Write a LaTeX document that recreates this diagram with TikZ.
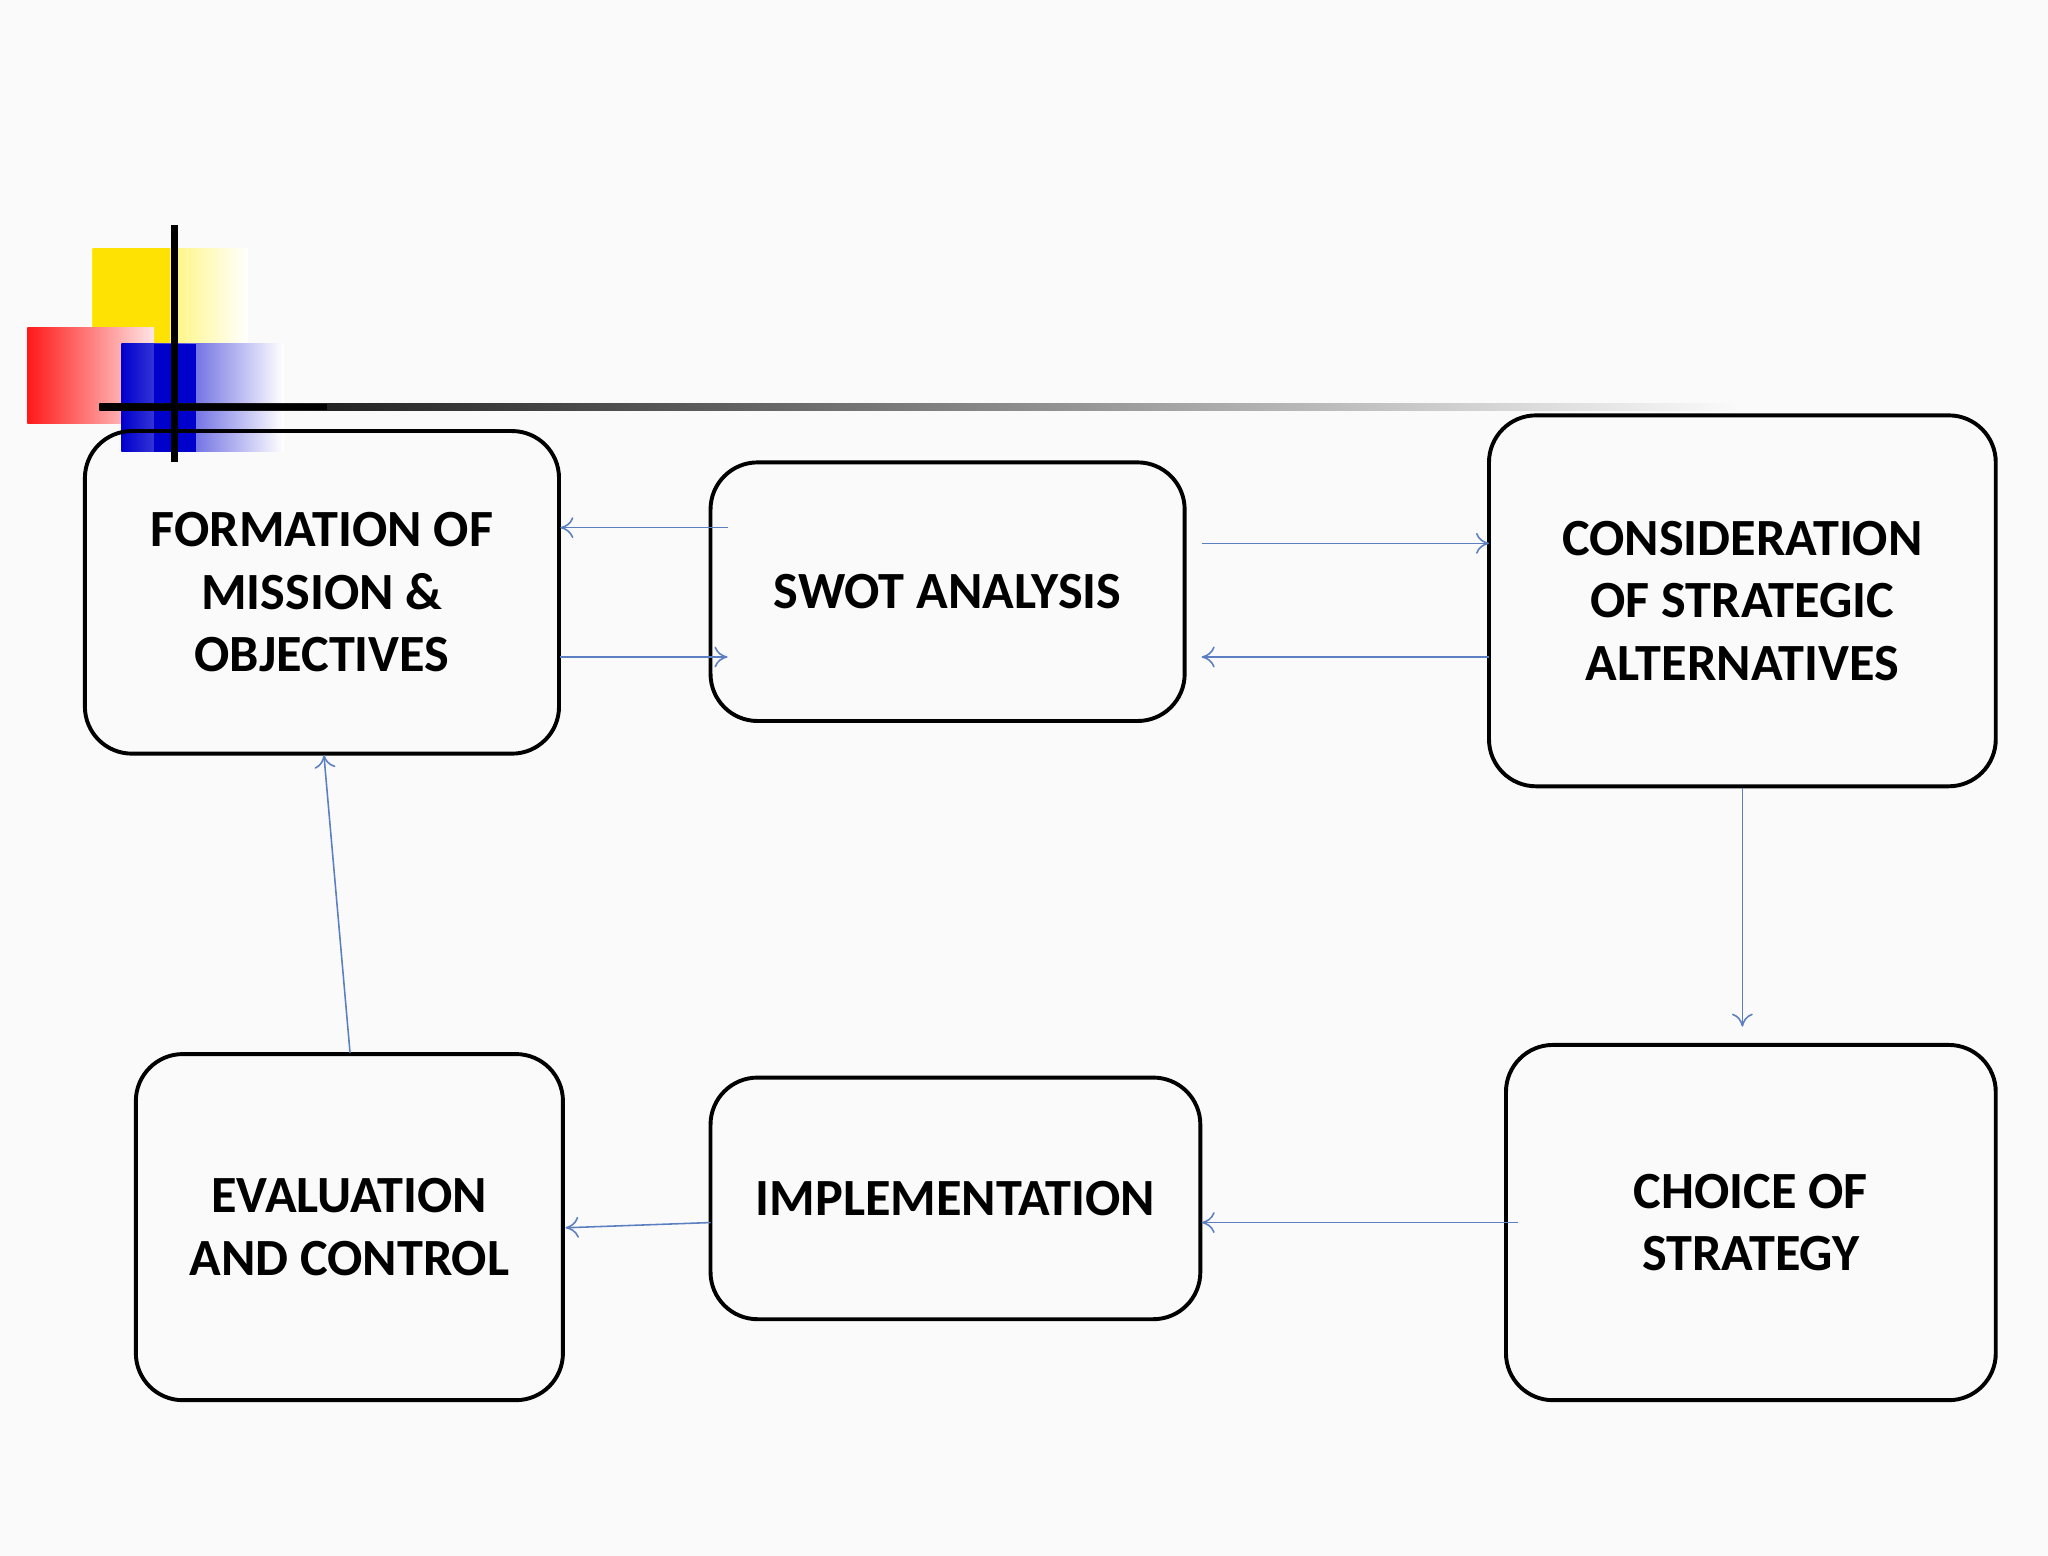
\documentclass[tikz,border=0pt]{standalone}
\usepackage{fontspec}
\setmainfont{Carlito}
\usetikzlibrary{arrows.meta}
\definecolor{arr}{HTML}{5B7FC0}
\begin{document}
\begin{tikzpicture}[x=0.5pt,y=-0.5pt,
 box/.style={draw=black,line width=1.5pt,rounded corners=18pt,align=center,font=\fontsize{20}{24}\selectfont\bfseries,inner sep=0pt},
 con/.style={draw=arr,line width=0.6pt,-{To[length=5pt,width=8pt]}}]
\useasboundingbox[fill=white!98!black] (0,0) rectangle (1568,1191);
% decoration
\shade[left color=yellow!85!orange,right color=white] (71,190) rectangle (190,265);
\fill[yellow!85!orange] (71,190) rectangle (130,265);
\shade[left color=red!90,right color=red!10] (21,251) rectangle (118,324);
\shade[left color=blue!80!black,right color=white] (93,263) rectangle (217,346);
\fill[blue!80!black] (118,263) rectangle (150,346);
\shade[left color=black,right color=white!98!black,shading angle=90] (76,309) rectangle (1330,314);
\fill[black] (76,309) rectangle (250,314);
\fill[black] (131,172) rectangle (136,354);
% nodes
\node[box,minimum width=363*0.5pt,minimum height=247*0.5pt] (A) at (246.5,453.5) {FORMATION OF\\MISSION \&\\OBJECTIVES};
\node[box,minimum width=363*0.5pt,minimum height=198*0.5pt] (B) at (725.5,453) {SWOT ANALYSIS};
\node[box,minimum width=388*0.5pt,minimum height=284*0.5pt] (C) at (1334,460) {CONSIDERATION\\OF STRATEGIC\\ALTERNATIVES};
\node[box,minimum width=375*0.5pt,minimum height=272*0.5pt] (D) at (1340.5,936) {CHOICE OF\\STRATEGY};
\node[box,minimum width=375*0.5pt,minimum height=185*0.5pt] (E) at (731.5,917.5) {IMPLEMENTATION};
\node[box,minimum width=327*0.5pt,minimum height=265*0.5pt] (F) at (267.5,939.5) {EVALUATION\\AND CONTROL};
% connectors
\coordinate (b1) at (557,404); \coordinate (a1) at (429,404);
\coordinate (a2) at (429,503); \coordinate (b2) at (557,503);
\coordinate (b3) at (920,416); \coordinate (c3) at (1140,416);
\coordinate (c4) at (1140,503); \coordinate (b4) at (920,503);
\coordinate (c5) at (1334,603); \coordinate (d5) at (1334,786);
\coordinate (d6) at (1162,936); \coordinate (e6) at (920,936);
\coordinate (e7) at (544,936); \coordinate (f7) at (433,940);
\coordinate (f8) at (268,806); \coordinate (a8) at (248,578);
\draw[con] (b1) -- (a1);
\draw[con] (a2) -- (b2);
\draw[con] (b3) -- (c3);
\draw[con] (c4) -- (b4);
\draw[con] (c5) -- (d5);
\draw[con] (d6) -- (e6);
\draw[con] (e7) -- (f7);
\draw[con] (f8) -- (a8);
\end{tikzpicture}
\end{document}
